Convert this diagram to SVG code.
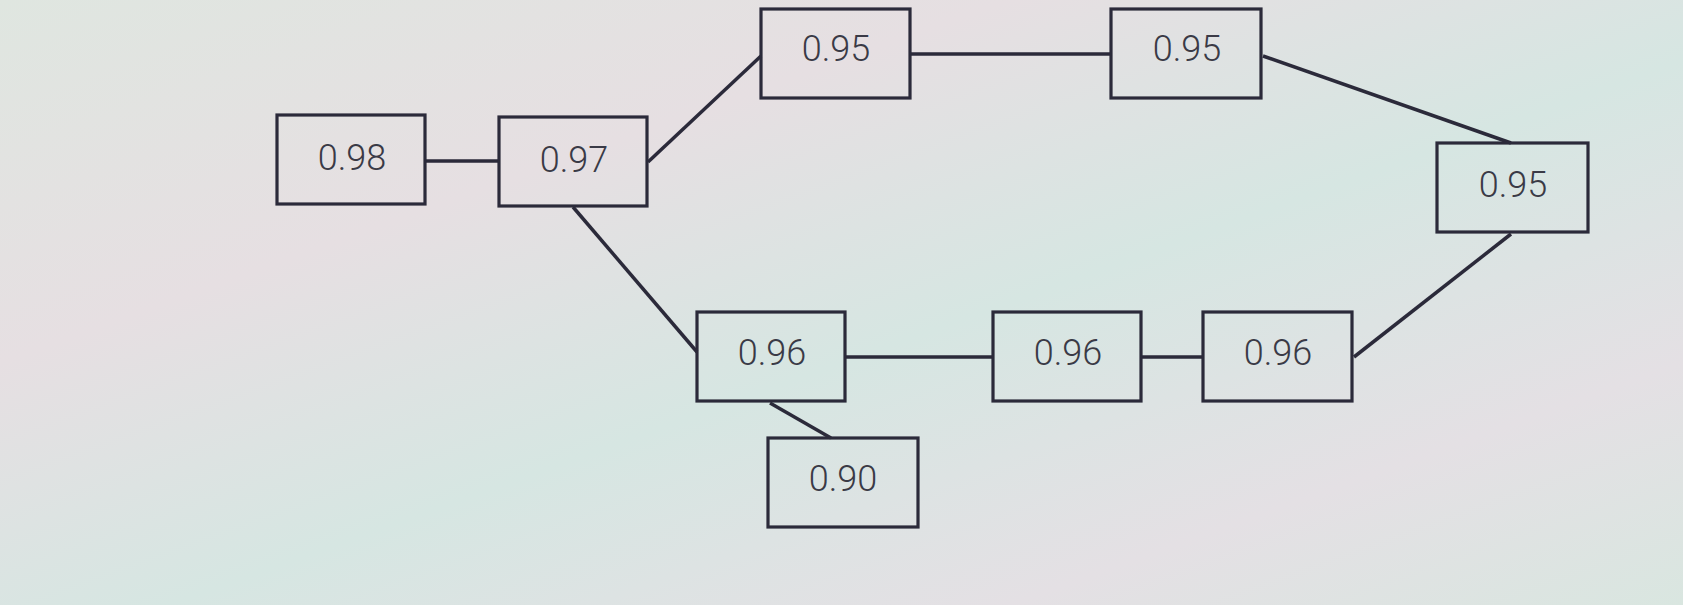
<svg xmlns="http://www.w3.org/2000/svg" width="1683" height="605" viewBox="0 0 1683 605">
<defs>
<linearGradient id="bg" x1="0" y1="0" x2="1" y2="1">
<stop offset="0" stop-color="#dfe6e0"/>
<stop offset="0.3" stop-color="#e6dfe2"/>
<stop offset="0.55" stop-color="#d6e6e2"/>
<stop offset="0.8" stop-color="#e4e0e4"/>
<stop offset="1" stop-color="#d9e6e0"/>
</linearGradient>
<style>
.box{fill:none;stroke:#2b2a3a;stroke-width:3.2}
.lbl{font-family:Roboto,"Liberation Sans",Arial,sans-serif;font-weight:300;font-size:36px;fill:#3a3a46;text-anchor:middle}
.edge{stroke:#2b2a3a;stroke-width:3.5;fill:none}
</style>
</defs>
<rect width="1683" height="605" fill="url(#bg)"/>
<g id="connectors">
<line class="edge" x1="425" y1="161" x2="499" y2="161"/>
<line class="edge" x1="648" y1="162" x2="761" y2="56"/>
<line class="edge" x1="910" y1="54" x2="1111" y2="54"/>
<line class="edge" x1="1263" y1="56" x2="1511" y2="143"/>
<line class="edge" x1="1511" y1="234" x2="1354" y2="357"/>
<line class="edge" x1="1141" y1="357" x2="1203" y2="357"/>
<line class="edge" x1="845" y1="357" x2="993" y2="357"/>
<line class="edge" x1="573" y1="207" x2="697" y2="352"/>
<line class="edge" x1="770" y1="403" x2="831" y2="438"/>
</g>
<g id="n098"><rect class="box" x="277" y="115" width="148" height="89"/><text class="lbl" x="352" y="170">0.98</text></g>
<g id="n097"><rect class="box" x="499" y="117" width="148" height="89"/><text class="lbl" x="574" y="172">0.97</text></g>
<g id="n095a"><rect class="box" x="761" y="9" width="149" height="89"/><text class="lbl" x="836" y="61">0.95</text></g>
<g id="n095b"><rect class="box" x="1111" y="9" width="150" height="89"/><text class="lbl" x="1187" y="61">0.95</text></g>
<g id="n095c"><rect class="box" x="1437" y="143" width="151" height="89"/><text class="lbl" x="1513" y="197">0.95</text></g>
<g id="n096a"><rect class="box" x="697" y="312" width="148" height="89"/><text class="lbl" x="772" y="365">0.96</text></g>
<g id="n096b"><rect class="box" x="993" y="312" width="148" height="89"/><text class="lbl" x="1068" y="365">0.96</text></g>
<g id="n096c"><rect class="box" x="1203" y="312" width="149" height="89"/><text class="lbl" x="1278" y="365">0.96</text></g>
<g id="n090"><rect class="box" x="768" y="438" width="150" height="89"/><text class="lbl" x="843" y="491">0.90</text></g>
</svg>
